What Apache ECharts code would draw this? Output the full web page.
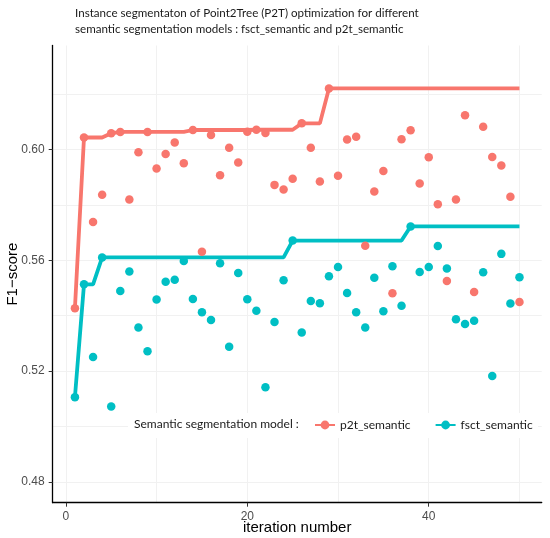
<!DOCTYPE html>
<html>
<head>
<meta charset="utf-8">
<script src="https://cdn.jsdelivr.net/npm/echarts@6/dist/echarts.min.js"></script>
<style>
html,body{margin:0;padding:0;background:#fff;}
#chart{width:550px;height:538px;}
</style>
</head>
<body>
<div id="chart"></div>
<script>
const iterations = [1,2,3,4,5,6,7,8,9,10,11,12,13,14,15,16,17,18,19,20,21,22,23,24,25,26,27,28,29,30,31,32,33,34,35,36,37,38,39,40,41,42,43,44,45,46,47,48,49,50];
const p2tValues = [0.5427,0.6043,0.5738,0.5836,0.6058,0.6063,0.5819,0.5990,0.6063,0.5931,0.5983,0.6025,0.5950,0.6070,0.5631,0.6052,0.5907,0.6006,0.5953,0.6064,0.6071,0.6059,0.5872,0.5855,0.5894,0.6094,0.6006,0.5884,0.6220,0.5905,0.6036,0.6046,0.5652,0.5848,0.5922,0.5481,0.6037,0.6069,0.5877,0.5972,0.5802,0.5525,0.5819,0.6123,0.5485,0.6082,0.5973,0.5942,0.5829,0.5449];
const fsctValues = [0.5106,0.5513,0.5251,0.5610,0.5072,0.5489,0.5559,0.5357,0.5272,0.5458,0.5522,0.5530,0.5597,0.5460,0.5412,0.5384,0.5589,0.5288,0.5554,0.5459,0.5418,0.5142,0.5377,0.5528,0.5671,0.5339,0.5453,0.5445,0.5542,0.5576,0.5482,0.5412,0.5357,0.5537,0.5416,0.5578,0.5436,0.5722,0.5558,0.5576,0.5651,0.5570,0.5387,0.5370,0.5382,0.5557,0.5182,0.5623,0.5444,0.5539];
const seriesNames = ['p2t_semantic','fsct_semantic'];
const xMajorTicks = [0,20,40];
const xMinorTicks = [10,30,50];
const yMajorTicks = [0.48,0.52,0.56,0.60];
const yMinorTicks = [0.50,0.54,0.58,0.62];
const titleLines = ['Instance segmentaton of Point2Tree (P2T) optimization for different','semantic segmentation models : fsct_semantic and p2t_semantic'];
const legendTitle = 'Semantic segmentation model :';

function runningMax(vals){
  const out = []; let m = -Infinity;
  vals.forEach((v,i)=>{ m = Math.max(m,v); out.push([iterations[i], m]); });
  return out;
}
function pairs(vals){ return vals.map((v,i)=>[iterations[i], v]); }

const RED = '#F8766D', TEAL = '#00BFC4';
const chart = echarts.init(document.getElementById('chart'), null, {renderer:'canvas'});
const gridLine = {show:true, lineStyle:{color:'#f1f1f1', width:1}};
const option = {
  backgroundColor:'#ffffff',
  animation:false,
  title:{
    text: titleLines.join('\n'),
    left:75, top:6, padding:0,
    textStyle:{fontFamily:'Lato', fontSize:11.6, fontWeight:'normal', color:'#1a1a1a', lineHeight:15.4}
  },
  graphic:[{
    type:'rect', left:128, top:413, z:10,
    shape:{width:410, height:25},
    style:{fill:'#ffffff'}
  },{
    type:'text', left:134, top:418, z:11,
    style:{text:legendTitle, fontFamily:'Lato', fontSize:12, fill:'#1a1a1a'}
  }],
  legend:{
    data: seriesNames, z:12,
    left:314, top:419, padding:0,
    itemWidth:20, itemHeight:11, itemGap:24,
    textStyle:{fontFamily:'Lato', fontSize:12, color:'#1a1a1a'}
  },
  grid:{left:52.7, right:8.3, top:45.5, bottom:35.3, containLabel:false, outerBoundsMode:'none'},
  xAxis:[{
    type:'value', min:-1.45, max:52.45,
    name:'iteration number', nameLocation:'middle', nameGap:18, nameMoveOverlap:false,
    nameTextStyle:{fontFamily:'Liberation Sans', fontSize:15, color:'#000'},
    axisLine:{show:true, onZero:false, lineStyle:{color:'#000', width:1.3}},
    axisTick:{show:true, customValues:xMajorTicks, length:4, lineStyle:{color:'#333'}},
    axisLabel:{customValues:xMajorTicks, fontFamily:'Liberation Sans', fontSize:12, color:'#4d4d4d', margin:8},
    splitLine:gridLine
  },{
    type:'value', min:-1.45, max:52.45, position:'bottom',
    axisLine:{show:false}, axisLabel:{show:false},
    axisTick:{show:false, customValues:xMinorTicks},
    splitLine:gridLine
  }],
  yAxis:[{
    type:'value', min:0.4725, max:0.6375,
    name:'F1\u2212score', nameLocation:'middle', nameGap:32, nameRotate:90, nameMoveOverlap:false,
    nameTextStyle:{fontFamily:'Liberation Sans', fontSize:15, color:'#000'},
    axisLine:{show:true, onZero:false, lineStyle:{color:'#000', width:1.3}},
    axisTick:{show:true, customValues:yMajorTicks, length:4, lineStyle:{color:'#333'}},
    axisLabel:{customValues:yMajorTicks, formatter:v=>v.toFixed(2), fontFamily:'Liberation Sans', fontSize:12, color:'#4d4d4d', margin:8},
    splitLine:gridLine
  },{
    type:'value', min:0.4725, max:0.6375, position:'left',
    axisLine:{show:false}, axisLabel:{show:false},
    axisTick:{show:false, customValues:yMinorTicks},
    splitLine:gridLine
  }],
  series:[
    {name:seriesNames[0], type:'line', data:runningMax(p2tValues), showSymbol:false, symbol:'circle',
     lineStyle:{color:RED, width:3.8}, itemStyle:{color:RED}, z:3},
    {name:seriesNames[1], type:'line', data:runningMax(fsctValues), showSymbol:false, symbol:'circle',
     lineStyle:{color:TEAL, width:3.8}, itemStyle:{color:TEAL}, z:3},
    {name:seriesNames[0], type:'scatter', data:pairs(p2tValues), symbolSize:8.5, itemStyle:{color:RED, opacity:1}, z:4},
    {name:seriesNames[1], type:'scatter', data:pairs(fsctValues), symbolSize:8.5, itemStyle:{color:TEAL, opacity:1}, z:4}
  ]
};
chart.setOption(option);
</script>
</body>
</html>
